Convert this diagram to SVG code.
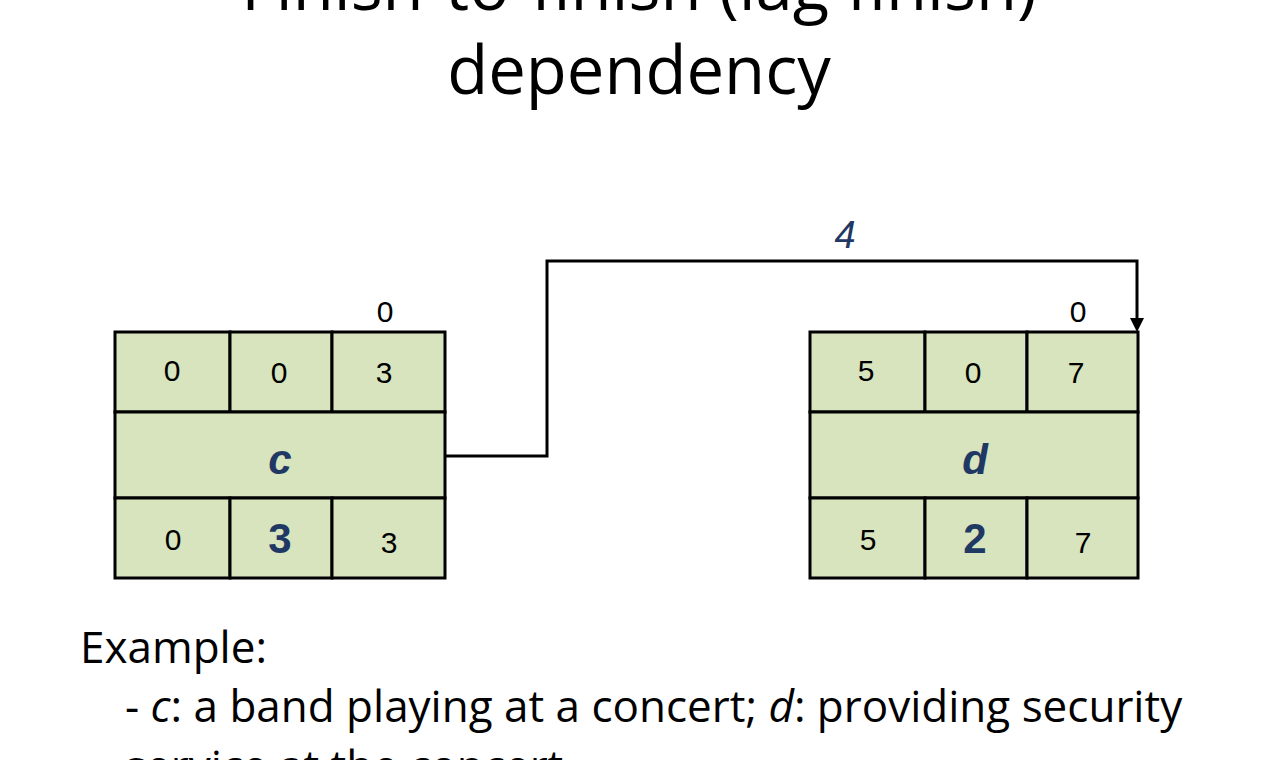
<svg xmlns="http://www.w3.org/2000/svg" width="1278" height="760" viewBox="0 0 1278 760">
<style>
text{font-family:"Open Sans","Liberation Sans",sans-serif;fill:#000}
.c{fill:#d7e4bd;stroke:#000;stroke-width:3}
.n{font-family:"Liberation Sans",Arial,sans-serif;font-size:30px;text-anchor:middle}
text.b{font-family:"Liberation Sans",Arial,sans-serif;font-size:42px;font-weight:bold;fill:#1f3864;text-anchor:middle}
.t{font-size:67px;text-anchor:middle}
.e{font-size:44px}
text.l{font-family:"Liberation Sans",Arial,sans-serif;font-size:38px;font-style:italic;fill:#1f3864;text-anchor:middle}
</style>
<rect width="1278" height="760" fill="#fff"/>
<text class="t" x="639" y="10">Finish-to-finish (lag finish)</text>
<text class="t" x="639" y="94">dependency</text>
<g id="connectors">
<path d="M445,456 H547 V261 H1137 V328" fill="none" stroke="#000" stroke-width="3"/>
<path d="M1130,318 L1144,318 L1137,332 Z"/>
<text class="l" x="845" y="248">4</text>
</g>
<g id="c">
<text class="n" x="385" y="322">0</text>
<rect class="c" x="115" y="332" width="115" height="80"/><rect class="c" x="230" y="332" width="102" height="80"/><rect class="c" x="332" y="332" width="113" height="80"/>
<rect class="c" x="115" y="412" width="330" height="86"/>
<rect class="c" x="115" y="498" width="115" height="80"/><rect class="c" x="230" y="498" width="102" height="80"/><rect class="c" x="332" y="498" width="113" height="80"/>
<text class="n" x="172" y="381">0</text><text class="n" x="279" y="383">0</text><text class="n" x="384" y="383">3</text>
<text class="b" x="280" y="474" font-style="italic">c</text>
<text class="n" x="173" y="550">0</text><text class="b" x="280" y="553">3</text><text class="n" x="389" y="553">3</text>
</g>
<g id="d">
<text class="n" x="1078" y="322">0</text>
<rect class="c" x="810" y="332" width="115" height="80"/><rect class="c" x="925" y="332" width="102" height="80"/><rect class="c" x="1027" y="332" width="111" height="80"/>
<rect class="c" x="810" y="412" width="328" height="86"/>
<rect class="c" x="810" y="498" width="115" height="80"/><rect class="c" x="925" y="498" width="102" height="80"/><rect class="c" x="1027" y="498" width="111" height="80"/>
<text class="n" x="866" y="381">5</text><text class="n" x="973" y="383">0</text><text class="n" x="1076" y="383">7</text>
<text class="b" x="975" y="474" font-style="italic">d</text>
<text class="n" x="868" y="550">5</text><text class="b" x="975" y="553">2</text><text class="n" x="1083" y="553">7</text>
</g>
<text class="e" x="80" y="663">Example:</text>
<text class="e" x="125" y="722">- <tspan font-style="italic">c</tspan>: a band playing at a concert; <tspan font-style="italic">d</tspan>: providing security</text>
<text class="e" x="125" y="782">service at the concert</text>
</svg>
